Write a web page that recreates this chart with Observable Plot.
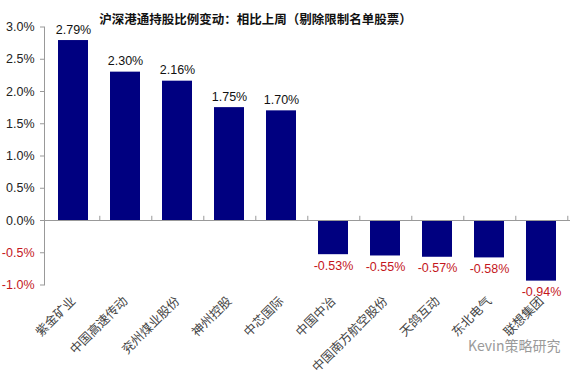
<!DOCTYPE html>
<html>
<head>
<meta charset="utf-8">
<script src="https://cdn.jsdelivr.net/npm/d3@7"></script>
<script src="https://cdn.jsdelivr.net/npm/@observablehq/plot@0.6"></script>
<style>
  html, body { margin: 0; padding: 0; background: #fff; }
  #chart { position: relative; width: 580px; height: 377px; }
</style>
</head>
<body>
<div id="chart"></div>
<script>
const titleText = "沪深港通持股比例变动：相比上周（剔除限制名单股票）";
const watermark = "Kevin策略研究";
const stocks = ["紫金矿业", "中国高速传动", "兖州煤业股份", "神州控股", "中芯国际", "中国中冶", "中国南方航空股份", "天鸽互动", "东北电气", "联想集团"];
const changes = [2.79, 2.30, 2.16, 1.75, 1.70, -0.53, -0.55, -0.57, -0.58, -0.94];
const posTicks = [0, 0.5, 1.0, 1.5, 2.0, 2.5, 3.0];
const negTicks = [-0.5, -1.0];

const data = stocks.map((s, i) => ({name: s, value: changes[i]}));
const W = 580, H = 377, mL = 44, mR = 10, mT = 26.5, mB = 92.5;
const step = (W - mL - mR) / stocks.length;
const red = "#c4161c";
const pctFmt = v => v.toFixed(2) + "%";
const tickFmt = v => v.toFixed(1) + "%";

const chart = Plot.plot({
  width: W, height: H,
  marginLeft: mL, marginRight: mR, marginTop: mT, marginBottom: mB,
  style: {fontFamily: "Arial, 'Liberation Sans', 'Noto Sans CJK SC', sans-serif", fontSize: "12px", color: "#222", background: "#fff"},
  x: {domain: stocks, paddingInner: 0.43, paddingOuter: 0.215, label: null},
  y: {domain: [-1, 3], label: null},
  marks: [
    Plot.barY(data, {x: "name", y: "value", fill: "#000080"}),
    Plot.ruleY([0], {stroke: "#999", strokeWidth: 1}),
    Plot.ruleX(stocks, {x: d => d, y1: 0, y2: 0.065, dx: step / 2, stroke: "#999"}),
    Plot.frame({anchor: "left", stroke: "#999"}),
    Plot.axisY({ticks: posTicks, tickFormat: tickFmt, tickSize: 4, tickPadding: 6, stroke: "#999", fill: "#222", fontSize: 12.5, label: null}),
    Plot.axisY({ticks: negTicks, tickFormat: tickFmt, tickSize: 4, tickPadding: 6, stroke: "#999", fill: red, fontSize: 12.5, label: null}),
    Plot.axisX({anchor: "bottom", tickSize: 0, tickPadding: 14, tickRotate: -45, fontSize: 12.5, fill: "#444", label: null,
      fontFamily: "'Noto Sans CJK SC', sans-serif"}),
    Plot.text(data.filter(d => d.value >= 0), {x: "name", y: "value", text: d => pctFmt(d.value), dy: -11, fill: "#111", fontSize: 12.5}),
    Plot.text(data.filter(d => d.value < 0), {x: "name", y: "value", text: d => pctFmt(d.value), dy: 11, fill: red, fontSize: 12.5}),
    Plot.text([titleText], {frameAnchor: "top", dy: -12, dx: -52, text: d => d, fontWeight: "bold", fontSize: 12.5, fill: "#111",
      fontFamily: "'Noto Sans CJK SC', sans-serif"}),
    Plot.text([watermark], {frameAnchor: "bottom-right", dy: 66, dx: -10, textAnchor: "end", text: d => d, fontSize: 14, fill: "#9a9a9a",
      fontFamily: "'Noto Sans CJK SC', sans-serif"})
  ]
});
document.getElementById("chart").appendChild(chart);
</script>
</body>
</html>
